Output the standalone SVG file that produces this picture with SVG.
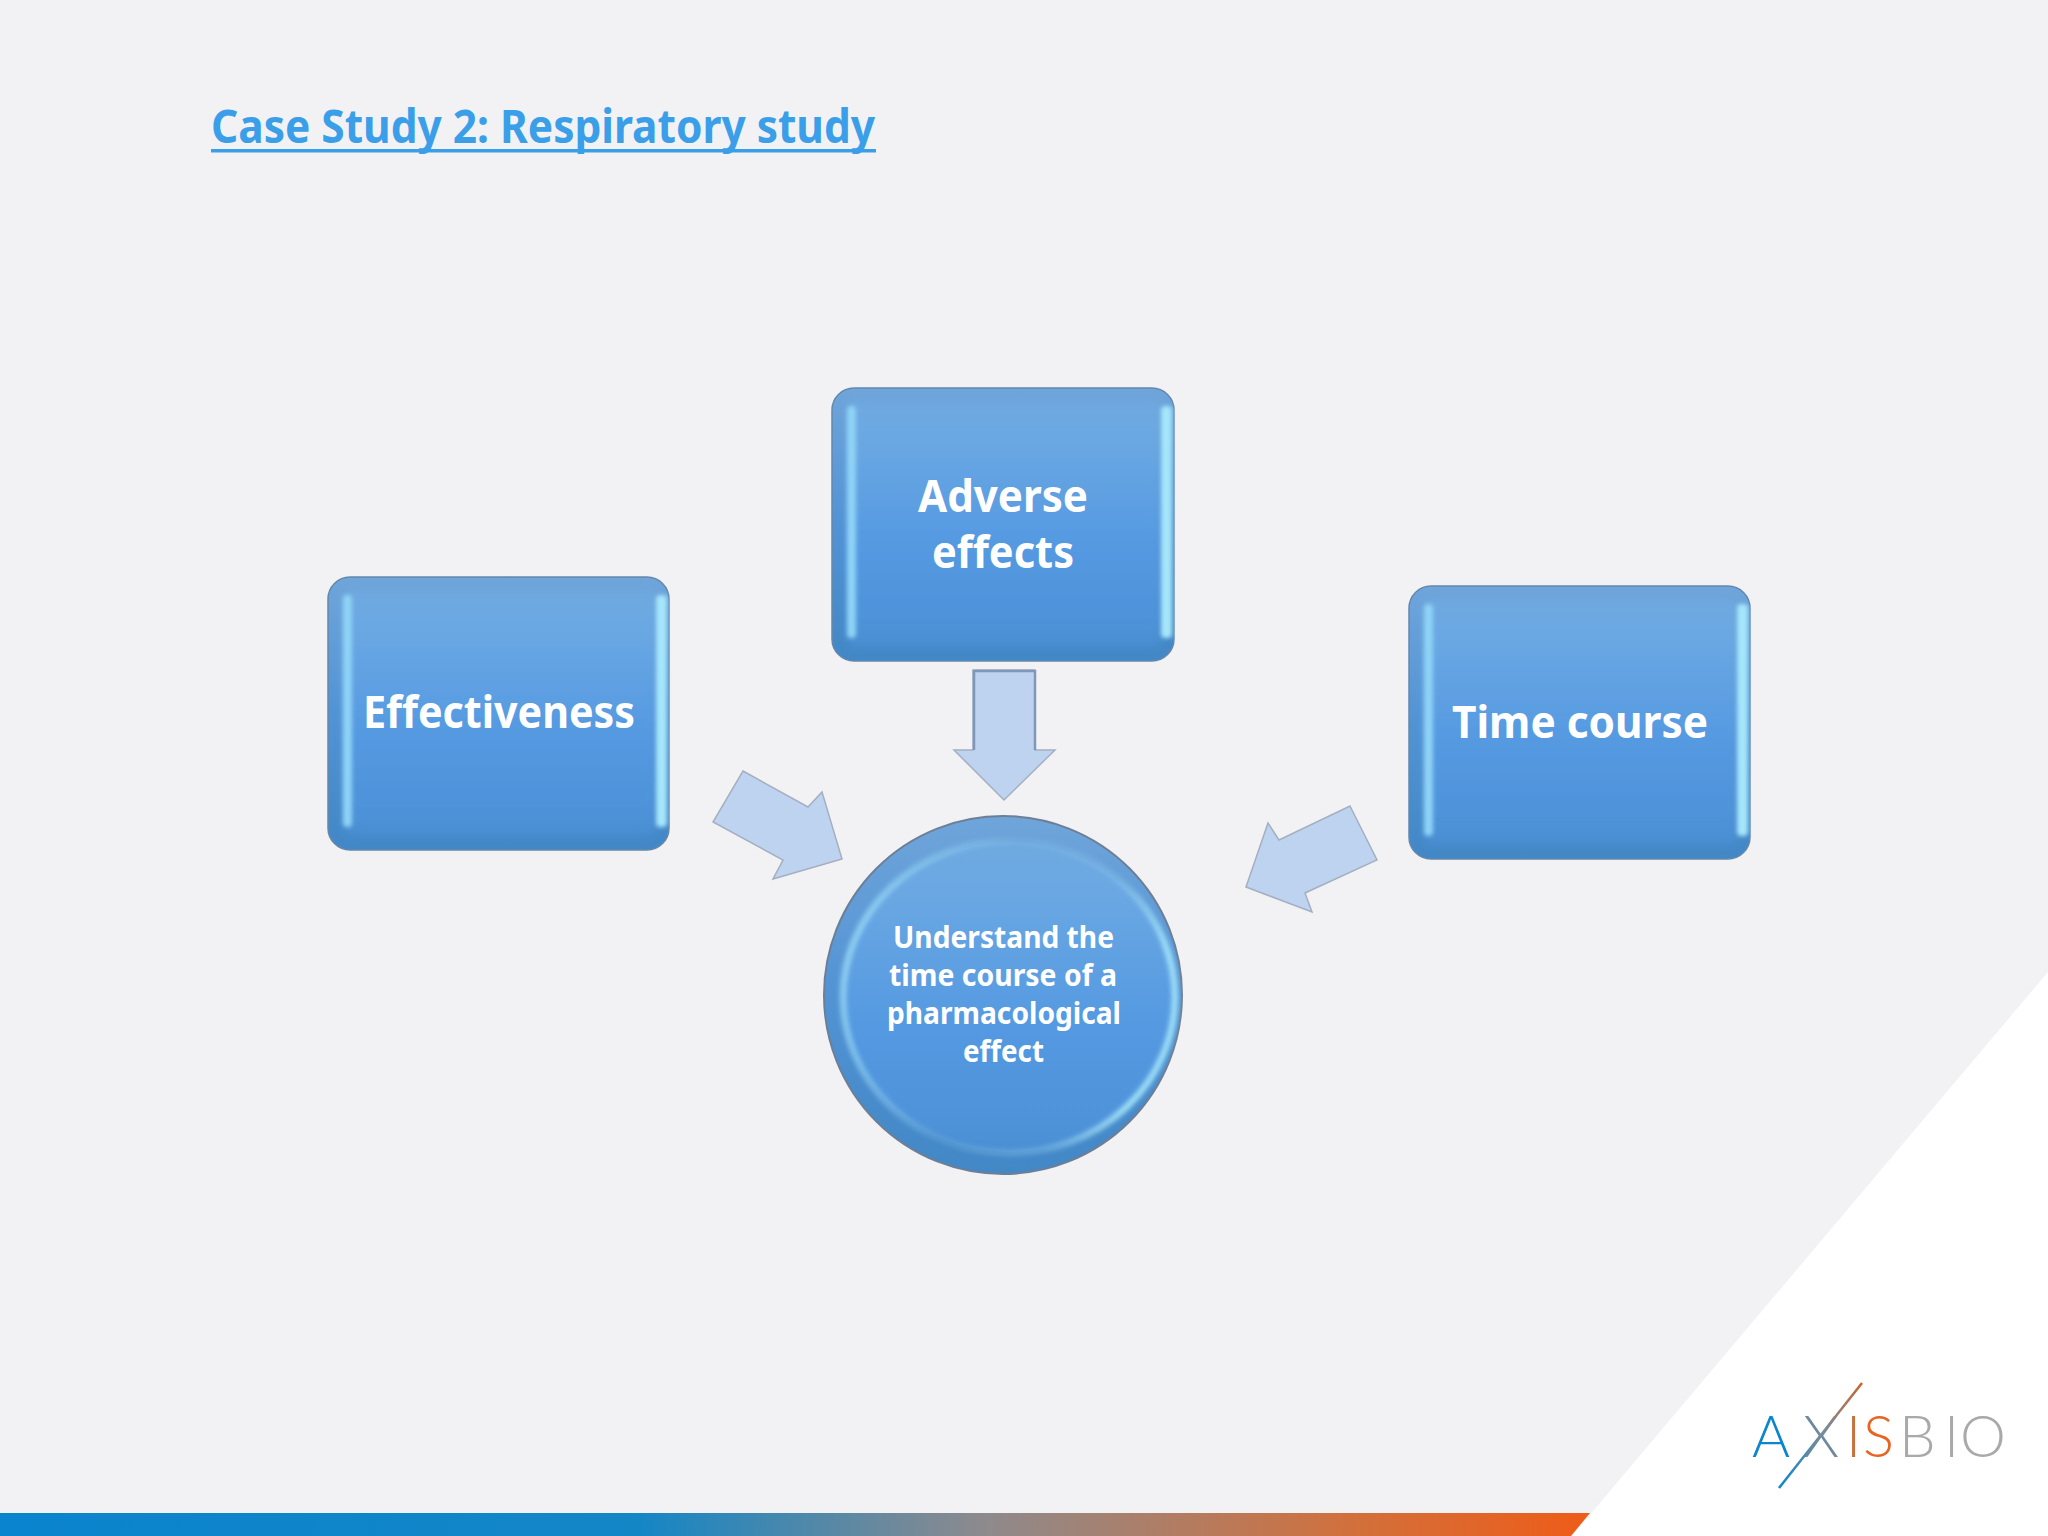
<svg xmlns="http://www.w3.org/2000/svg" width="2048" height="1536" viewBox="0 0 2048 1536">
<defs>
<linearGradient id="boxFill" x1="0" y1="0" x2="0" y2="1">
<stop offset="0" stop-color="#6fa9df"/><stop offset="0.15" stop-color="#6ba8e3"/><stop offset="0.6" stop-color="#5499e1"/><stop offset="0.88" stop-color="#4f93da"/><stop offset="1" stop-color="#4a8fd2"/>
</linearGradient>
<linearGradient id="edgeFill" x1="0" y1="0" x2="0" y2="1">
<stop offset="0" stop-color="#6fa5da"/><stop offset="0.5" stop-color="#5293d4"/><stop offset="1" stop-color="#4287c6"/>
</linearGradient>
<linearGradient id="ringFill" x1="0" y1="0" x2="1" y2="0.25">
<stop offset="0" stop-color="#a5e6fb"/><stop offset="0.22" stop-color="#8fd0f3" stop-opacity="0.75"/><stop offset="0.5" stop-color="#8cc8ee" stop-opacity="0.22"/><stop offset="0.8" stop-color="#8cc8ee" stop-opacity="0.45"/><stop offset="1" stop-color="#a5e6fb"/>
</linearGradient>
<linearGradient id="barFill" x1="0" y1="0" x2="1" y2="0">
<stop offset="0" stop-color="#0a84ce"/><stop offset="0.4" stop-color="#1386c6"/><stop offset="0.62" stop-color="#8e8a8c"/><stop offset="0.85" stop-color="#d2703c"/><stop offset="1" stop-color="#ee5c18"/>
</linearGradient>
<linearGradient id="slashFill" gradientUnits="userSpaceOnUse" x1="1779" y1="1488" x2="1862" y2="1383">
<stop offset="0" stop-color="#0a86cf"/><stop offset="0.55" stop-color="#7f8b95"/><stop offset="1" stop-color="#c8642c"/>
</linearGradient>
<filter id="soft" x="-50%" y="-10%" width="200%" height="120%"><feGaussianBlur stdDeviation="2"/></filter>
<filter id="softFace" x="-5%" y="-5%" width="110%" height="110%"><feGaussianBlur stdDeviation="4"/></filter>
<filter id="softRing" x="-10%" y="-10%" width="120%" height="120%"><feGaussianBlur stdDeviation="2.5"/></filter>
</defs>
<style>
.bg{fill:#f2f2f4}
.lbl{font-family:"Noto Sans","Open Sans","Liberation Sans",sans-serif;font-weight:700;fill:#fff}
.big{font-size:44px}
.small{font-size:30px}
.title{font-family:"Noto Sans","Open Sans","Liberation Sans",sans-serif;font-weight:700;font-size:46px;fill:#3a9fe8}
.edge{fill:url(#edgeFill);stroke:#6488ad;stroke-width:1.5}
.face{fill:url(#boxFill);filter:url(#softFace)}
.stripeL{fill:#8fd3f6;filter:url(#soft)}
.stripeR{fill:#a6e6fb;filter:url(#soft)}
.arrow{fill:#bdd3f0;stroke:#a4afc2;stroke-width:1.5;stroke-linejoin:miter}
.shade{fill:none;stroke:#7f97b8;stroke-width:2.5}
.logo{font-family:"Lato","Inter",sans-serif;font-weight:300;font-size:58px}
</style>
<rect class="bg" width="2048" height="1536"/>
<polygon points="2048,972 2048,1536 1572,1536" fill="#ffffff"/>
<polygon points="0,1513 1590,1513 1571,1536 0,1536" fill="url(#barFill)"/>
<text class="title" x="211" y="143" textLength="664" lengthAdjust="spacingAndGlyphs">Case Study 2: Respiratory study</text>
<rect x="211" y="149" width="665" height="3.5" fill="#3a9fe8"/>

<g id="connectors">
<polygon id="arrow-top" class="arrow" points="973,670 1035,670 1035,750 1055,750 1004,800 954,750 973,750"/>
<path class="shade" d="M974,670V750M1035,670V750M974,671H1035"/>
<polygon id="arrow-left" class="arrow" points="743,771 808,807 822,792 842,859 773,879 783,860 713,822"/>
<polygon id="arrow-right" class="arrow" points="1350,806 1377,860 1305,893 1312,912 1246,887 1268,823 1279,840"/>
</g>

<g id="node-effectiveness">
<rect class="edge" x="328" y="577" width="341" height="273" rx="22"/>
<rect class="face" x="344" y="590" width="312" height="245" rx="8"/>
<rect class="stripeL" x="343" y="595" width="9" height="232" rx="4"/>
<rect class="stripeR" x="656" y="595" width="11" height="232" rx="4"/>
<text class="lbl big" x="363" y="728" textLength="272" lengthAdjust="spacingAndGlyphs">Effectiveness</text>
</g>

<g id="node-adverse">
<rect class="edge" x="832" y="388" width="342" height="273" rx="22"/>
<rect class="face" x="848" y="401" width="313" height="245" rx="8"/>
<rect class="stripeL" x="847" y="406" width="9" height="232" rx="4"/>
<rect class="stripeR" x="1161" y="406" width="11" height="232" rx="4"/>
<text class="lbl big" x="918" y="512" textLength="170" lengthAdjust="spacingAndGlyphs">Adverse</text>
<text class="lbl big" x="932" y="568" textLength="142" lengthAdjust="spacingAndGlyphs">effects</text>
</g>

<g id="node-timecourse">
<rect class="edge" x="1409" y="586" width="341" height="273" rx="22"/>
<rect class="face" x="1425" y="599" width="312" height="245" rx="8"/>
<rect class="stripeL" x="1424" y="604" width="9" height="232" rx="4"/>
<rect class="stripeR" x="1737" y="604" width="11" height="232" rx="4"/>
<text class="lbl big" x="1452" y="738" textLength="256" lengthAdjust="spacingAndGlyphs">Time course</text>
</g>

<g id="node-goal">
<circle cx="1003" cy="995" r="179" fill="url(#edgeFill)" stroke="#6d7f96" stroke-width="2"/>
<ellipse cx="1009" cy="997" rx="165" ry="155" fill="url(#boxFill)"/>
<ellipse cx="1009" cy="997" rx="166" ry="156" fill="none" stroke="url(#ringFill)" stroke-width="6" filter="url(#softRing)"/>
<text class="lbl small" x="893" y="948" textLength="221" lengthAdjust="spacingAndGlyphs">Understand the</text>
<text class="lbl small" x="889" y="986" textLength="228" lengthAdjust="spacingAndGlyphs">time course of a</text>
<text class="lbl small" x="887" y="1024" textLength="234" lengthAdjust="spacingAndGlyphs">pharmacological</text>
<text class="lbl small" x="963" y="1062" textLength="81" lengthAdjust="spacingAndGlyphs">effect</text>
</g>

<g id="logo">
<text class="logo" y="1457" x="1752" fill="#0a86cf">A</text>
<text class="logo" y="1457" x="1803" fill="#6f8a9c">X</text>
<text class="logo" y="1457" x="1846" fill="#c8703c">I</text>
<text class="logo" y="1457" x="1863" fill="#ea6420">S</text>
<text class="logo" y="1457" x="1899" fill="#a9a9ab">B</text>
<text class="logo" y="1457" x="1944" fill="#a9a9ab">I</text>
<text class="logo" y="1457" x="1960" fill="#a9a9ab">O</text>
<line x1="1779" y1="1488" x2="1862" y2="1383" stroke="url(#slashFill)" stroke-width="2.5"/>
</g>
</svg>
